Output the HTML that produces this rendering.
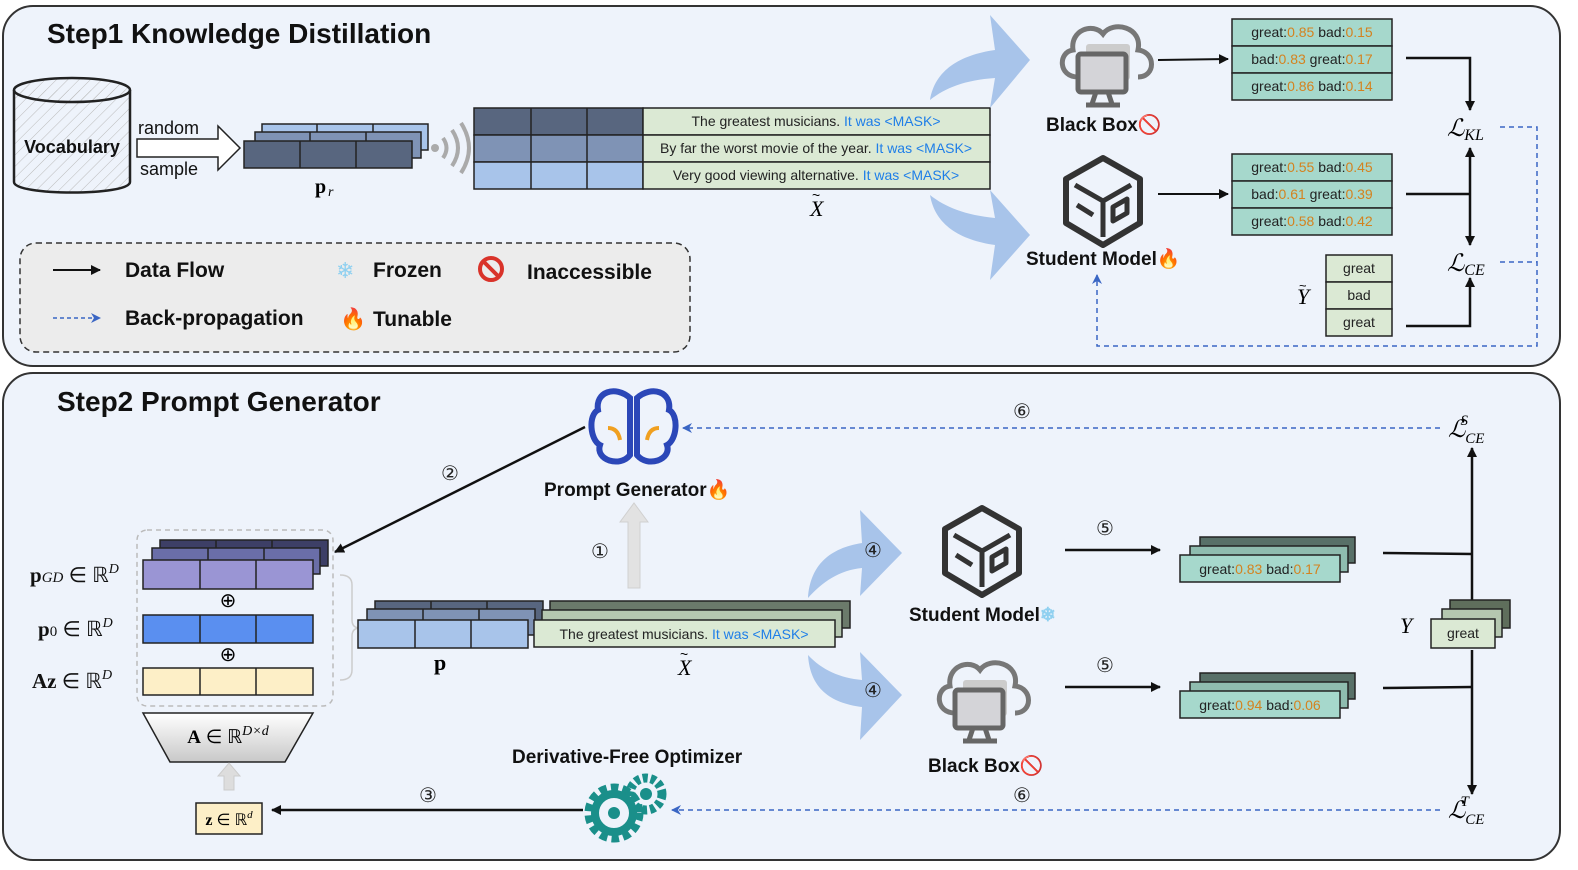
<!DOCTYPE html>
<html><head><meta charset="utf-8"><style>
body{margin:0;background:#fff}
svg{display:block;font-family:"Liberation Sans",sans-serif}
.b{font-weight:bold}
.m{font-family:"Liberation Serif",serif;font-style:italic}
.c{font-size:14px;fill:#222}
.o{fill:#d4821f}
.bl{fill:#1e7ee8}
</style></head><body>
<svg width="1578" height="870" viewBox="0 0 1578 870" xmlns="http://www.w3.org/2000/svg">
<defs>
<marker id="ak" markerWidth="10" markerHeight="10" refX="9" refY="5" orient="auto" markerUnits="userSpaceOnUse"><path d="M0,0 L10,5 L0,10 Z" fill="#111"/></marker>
<marker id="ab" markerWidth="10" markerHeight="10" refX="9" refY="5" orient="auto" markerUnits="userSpaceOnUse"><path d="M0,0 L10,5 L0,10 L3,5Z" fill="#3a66c4"/></marker>
<linearGradient id="tg" x1="0" y1="0" x2="0" y2="1"><stop offset="0" stop-color="#fff"/><stop offset="1" stop-color="#c8c8c8"/></linearGradient>
<pattern id="hatch" width="8" height="8" patternUnits="userSpaceOnUse" patternTransform="rotate(45)"><line x1="0" y1="0" x2="0" y2="8" stroke="#bbb" stroke-width="1"/></pattern>
<g id="bbox"><path d="M20,55 C0,55 0,30 15,28 C12,8 35,0 45,12 C55,-2 85,5 80,28 C98,30 98,55 80,55" fill="none" stroke="#777" stroke-width="5"/><rect x="28" y="22" width="44" height="36" rx="3" fill="#ccc"/><rect x="20" y="32" width="48" height="38" rx="3" fill="#d4d4d8" stroke="#666" stroke-width="5"/><path d="M38,70 L34,82 M50,70 L54,82 M28,83 L62,83" stroke="#666" stroke-width="5"/></g>
<g id="cube"><path d="M40,3 L77,24 L77,68 L40,90 L3,68 L3,24 Z" fill="none" stroke="#333" stroke-width="6" stroke-linejoin="round"/><path d="M12,30 L40,46 L68,30 M40,46 L40,82 M14,50 L30,60 M50,66 L50,52 L64,44 L64,58 Z" fill="none" stroke="#333" stroke-width="5" stroke-linejoin="round"/></g>
</defs>

<!-- Panel 1 -->
<rect x="3" y="6" width="1557" height="360" rx="30" fill="#eef3fb" stroke="#333" stroke-width="2"/>
<text x="47" y="43" class="b" font-size="28" fill="#111">Step1 Knowledge Distillation</text>
<path d="M14,90 L14,182 C14,196 130,196 130,182 L130,90" fill="url(#hatch)" stroke="#222" stroke-width="2.5"/>
<ellipse cx="72" cy="90" rx="58" ry="12" fill="url(#hatch)" stroke="#222" stroke-width="2.5"/>
<text x="72" y="153" text-anchor="middle" class="b" font-size="18" fill="#111">Vocabulary</text>
<path d="M137,139 L218,139 L218,126 L240,148 L218,170 L218,157 L137,157 Z" fill="#fff" stroke="#222" stroke-width="1.5"/>
<text x="138" y="134" font-size="18" fill="#111">random</text>
<text x="140" y="175" font-size="18" fill="#111">sample</text>
<g stroke="#222" stroke-width="1.5">
<rect x="262" y="124" width="166" height="26" fill="#a8c4ea"/><line x1="317" y1="124" x2="317" y2="150"/><line x1="373" y1="124" x2="373" y2="150"/>
<rect x="255" y="132" width="166" height="26" fill="#7f93b5"/><line x1="310" y1="132" x2="310" y2="158"/><line x1="366" y1="132" x2="366" y2="158"/>
<rect x="244" y="141" width="168" height="27" fill="#58667f"/><line x1="300" y1="141" x2="300" y2="168"/><line x1="356" y1="141" x2="356" y2="168"/>
</g>
<text x="315" y="193" class="b" font-family="Liberation Serif,serif" font-size="20">p</text><text x="328" y="196" class="m" font-size="14">r</text>
<circle cx="435" cy="148" r="4" fill="#aaa"/>
<path d="M443,138 Q450,148 443,158 M452,130 Q464,148 452,166 M461,123 Q477,148 461,173" fill="none" stroke="#aaa" stroke-width="4"/>
<g stroke="#222" stroke-width="1.5">
<rect x="474" y="108" width="169" height="27" fill="#58667f"/><rect x="474" y="135" width="169" height="27" fill="#7f93b5"/><rect x="474" y="162" width="169" height="27" fill="#a8c4ea"/>
<line x1="531" y1="108" x2="531" y2="189"/><line x1="587" y1="108" x2="587" y2="189"/>
<rect x="643" y="108" width="347" height="27" fill="#dbe9d4"/><rect x="643" y="135" width="347" height="27" fill="#dbe9d4"/><rect x="643" y="162" width="347" height="27" fill="#dbe9d4"/>
</g>
<text x="816" y="126" text-anchor="middle" class="c">The greatest musicians. <tspan class="bl">It was &lt;MASK&gt;</tspan></text>
<text x="816" y="153" text-anchor="middle" class="c">By far the worst movie of the year. <tspan class="bl">It was &lt;MASK&gt;</tspan></text>
<text x="816" y="180" text-anchor="middle" class="c">Very good viewing alternative. <tspan class="bl">It was &lt;MASK&gt;</tspan></text>
<text x="810" y="216" class="m" font-size="22">X</text><text x="812" y="200" font-size="14">~</text>
<path d="M930,100 C935,70 960,55 995,50 L990,15 L1030,60 L990,108 L995,78 C965,80 945,88 930,100 Z" fill="#a8c4ea"/>
<path d="M930,195 C935,225 960,240 995,245 L990,280 L1030,235 L990,190 L995,218 C965,215 945,207 930,195 Z" fill="#a8c4ea"/>
<use href="#bbox" x="1058" y="22"/>
<text x="1046" y="131" class="b" font-size="19" fill="#111">Black Box🚫</text>
<use href="#cube" x="1063" y="155"/>
<text x="1026" y="265" class="b" font-size="19" fill="#111">Student Model🔥</text>
<line x1="1158" y1="60" x2="1228" y2="59" stroke="#111" stroke-width="2" marker-end="url(#ak)"/>
<line x1="1158" y1="194" x2="1228" y2="194" stroke="#111" stroke-width="2" marker-end="url(#ak)"/>
<g stroke="#222" stroke-width="1.5" fill="#a6d8cc">
<rect x="1232" y="19" width="160" height="27"/><rect x="1232" y="46" width="160" height="27"/><rect x="1232" y="73" width="160" height="27"/>
<rect x="1232" y="154" width="160" height="27"/><rect x="1232" y="181" width="160" height="27"/><rect x="1232" y="208" width="160" height="27"/>
</g>
<g class="c" text-anchor="middle">
<text x="1312" y="37">great:<tspan class="o">0.85</tspan> bad:<tspan class="o">0.15</tspan></text>
<text x="1312" y="64">bad:<tspan class="o">0.83</tspan> great:<tspan class="o">0.17</tspan></text>
<text x="1312" y="91">great:<tspan class="o">0.86</tspan> bad:<tspan class="o">0.14</tspan></text>
<text x="1312" y="172">great:<tspan class="o">0.55</tspan> bad:<tspan class="o">0.45</tspan></text>
<text x="1312" y="199">bad:<tspan class="o">0.61</tspan> great:<tspan class="o">0.39</tspan></text>
<text x="1312" y="226">great:<tspan class="o">0.58</tspan> bad:<tspan class="o">0.42</tspan></text>
</g>
<g stroke="#222" stroke-width="1.5" fill="#dbe9d4">
<rect x="1326" y="255" width="66" height="27"/><rect x="1326" y="282" width="66" height="27"/><rect x="1326" y="309" width="66" height="27"/>
</g>
<g class="c" text-anchor="middle"><text x="1359" y="273">great</text><text x="1359" y="300">bad</text><text x="1359" y="327">great</text></g>
<text x="1297" y="304" class="m" font-size="22">Y</text><text x="1299" y="290" font-size="13">~</text>
<g stroke="#111" stroke-width="2.5" fill="none">
<path d="M1406,58 L1470,58 L1470,110" marker-end="url(#ak)"/>
<path d="M1406,194 L1470,194"/>
<line x1="1470" y1="194" x2="1470" y2="148" marker-end="url(#ak)"/>
<line x1="1470" y1="194" x2="1470" y2="245" marker-end="url(#ak)"/>
<path d="M1406,326 L1470,326 L1470,278" marker-end="url(#ak)"/>
</g>
<text x="1447" y="136" class="m" font-size="24">ℒ<tspan font-size="16" dy="4">KL</tspan></text>
<text x="1447" y="271" class="m" font-size="24">ℒ<tspan font-size="16" dy="4">CE</tspan></text>
<g stroke="#3a66c4" stroke-width="1.5" stroke-dasharray="5,4" fill="none">
<path d="M1500,127 L1537,127 L1537,346 L1097,346 L1097,275" marker-end="url(#ab)"/>
<path d="M1500,262 L1537,262"/>
</g>
<rect x="20" y="243" width="670" height="109" rx="16" fill="#ececec" stroke="#333" stroke-width="1.5" stroke-dasharray="6,4"/>
<line x1="53" y1="270" x2="100" y2="270" stroke="#111" stroke-width="2" marker-end="url(#ak)"/>
<text x="125" y="277" class="b" font-size="21" fill="#111">Data Flow</text>
<line x1="53" y1="318" x2="100" y2="318" stroke="#3a66c4" stroke-width="1.5" stroke-dasharray="4,3" marker-end="url(#ab)"/>
<text x="125" y="325" class="b" font-size="21" fill="#111">Back-propagation</text>
<text x="336" y="278" font-size="22" fill="#8fd0f0">❄</text>
<text x="373" y="277" class="b" font-size="21" fill="#111">Frozen</text>
<circle cx="491" cy="269" r="11" fill="none" stroke="#d9332a" stroke-width="4"/><line x1="483" y1="261" x2="499" y2="277" stroke="#d9332a" stroke-width="4"/>
<text x="527" y="279" class="b" font-size="21" fill="#111">Inaccessible</text>
<text x="340" y="326" font-size="21">🔥</text>
<text x="373" y="326" class="b" font-size="21" fill="#111">Tunable</text>

<!-- Panel 2 -->
<rect x="3" y="373" width="1557" height="487" rx="30" fill="#eef3fb" stroke="#333" stroke-width="2"/>
<text x="57" y="411" class="b" font-size="28" fill="#111">Step2 Prompt Generator</text>
<g fill="none" stroke="#2b47b8" stroke-width="6" stroke-linecap="round">
<path d="M630,398 C615,385 595,392 598,410 C588,415 590,440 600,445 C595,460 620,468 630,455 Z"/>
<path d="M637,398 C652,385 672,392 669,410 C679,415 677,440 667,445 C672,460 647,468 637,455 Z"/>
</g>
<path d="M608,428 Q618,428 620,440 M659,428 Q649,428 647,440" stroke="#f0a020" stroke-width="4" fill="none"/>
<text x="544" y="496" class="b" font-size="19" fill="#111">Prompt Generator🔥</text>
<line x1="1440" y1="428" x2="683" y2="428" stroke="#3a66c4" stroke-width="1.5" stroke-dasharray="5,4" marker-end="url(#ab)"/>
<text x="1022" y="418" text-anchor="middle" font-size="20" fill="#222">⑥</text>
<text x="1448" y="437" class="m" font-size="24">ℒ<tspan font-size="15" dy="6">CE</tspan><tspan font-size="15" dx="-24" dy="-18">S</tspan></text>
<line x1="585" y1="427" x2="335" y2="552" stroke="#111" stroke-width="2.5" marker-end="url(#ak)"/>
<text x="450" y="480" text-anchor="middle" font-size="20" fill="#222">②</text>
<rect x="137" y="530" width="196" height="176" rx="10" fill="none" stroke="#bbb" stroke-width="1.5" stroke-dasharray="5,4"/>
<g stroke="#222" stroke-width="1.5">
<rect x="160" y="540" width="168" height="26" fill="#3d3f66"/><line x1="216" y1="540" x2="216" y2="566"/><line x1="272" y1="540" x2="272" y2="566"/>
<rect x="152" y="548" width="168" height="26" fill="#6a6ea8"/><line x1="208" y1="548" x2="208" y2="574"/><line x1="264" y1="548" x2="264" y2="574"/>
<rect x="143" y="560" width="170" height="29" fill="#9a95d4"/><line x1="200" y1="560" x2="200" y2="589"/><line x1="256" y1="560" x2="256" y2="589"/>
<rect x="143" y="615" width="170" height="28" fill="#5a8ff0"/><line x1="200" y1="615" x2="200" y2="643"/><line x1="256" y1="615" x2="256" y2="643"/>
<rect x="143" y="668" width="170" height="27" fill="#fdefc7"/><line x1="200" y1="668" x2="200" y2="695"/><line x1="256" y1="668" x2="256" y2="695"/>
</g>
<text x="228" y="607" text-anchor="middle" font-size="20">⊕</text>
<text x="228" y="661" text-anchor="middle" font-size="20">⊕</text>
<g font-family="Liberation Serif,serif" font-size="21" fill="#111">
<text x="30" y="582"><tspan font-weight="bold">p</tspan><tspan class="m" font-size="15">GD</tspan> ∈ ℝ<tspan font-size="14" dy="-9" class="m">D</tspan></text>
<text x="38" y="636"><tspan font-weight="bold">p</tspan><tspan font-size="15">0</tspan> ∈ ℝ<tspan font-size="14" dy="-9" class="m">D</tspan></text>
<text x="32" y="688"><tspan font-weight="bold">Az</tspan> ∈ ℝ<tspan font-size="14" dy="-9" class="m">D</tspan></text>
</g>
<path d="M340,575 Q352,575 352,585 L352,620 Q352,628 360,628 Q352,628 352,636 L352,670 Q352,680 340,680" fill="none" stroke="#ccc" stroke-width="1.5"/>
<path d="M143,713 L313,713 L285,762 L170,762 Z" fill="url(#tg)" stroke="#222" stroke-width="1.5"/>
<text x="228" y="743" text-anchor="middle" font-family="Liberation Serif,serif" font-size="19"><tspan font-weight="bold">A</tspan> ∈ ℝ<tspan font-size="14" dy="-8" class="m">D×d</tspan></text>
<path d="M224,790 L224,776 L218,776 L229,763 L240,776 L234,776 L234,790 Z" fill="#ddd" stroke="#ccc"/>
<rect x="196" y="803" width="66" height="31" fill="#fdefc7" stroke="#222" stroke-width="1.5"/>
<text x="229" y="825" text-anchor="middle" font-family="Liberation Serif,serif" font-size="16"><tspan font-weight="bold">z</tspan> ∈ ℝ<tspan font-size="11" dy="-7" class="m">d</tspan></text>
<line x1="583" y1="810" x2="272" y2="810" stroke="#111" stroke-width="2.5" marker-end="url(#ak)"/>
<text x="428" y="802" text-anchor="middle" font-size="20" fill="#222">③</text>
<text x="512" y="763" class="b" font-size="19" fill="#111">Derivative-Free Optimizer</text>
<circle cx="614" cy="813" r="24" fill="none" stroke="#1a8f8a" stroke-width="11" stroke-dasharray="7,4"/>
<circle cx="614" cy="813" r="19" fill="none" stroke="#1a8f8a" stroke-width="8"/>
<circle cx="614" cy="813" r="6" fill="#1a8f8a"/>
<circle cx="646" cy="794" r="16" fill="none" stroke="#1a8f8a" stroke-width="9" stroke-dasharray="5,3"/>
<circle cx="646" cy="794" r="6" fill="#1a8f8a"/>
<line x1="1440" y1="810" x2="672" y2="810" stroke="#3a66c4" stroke-width="1.5" stroke-dasharray="5,4" marker-end="url(#ab)"/>
<text x="1022" y="802" text-anchor="middle" font-size="20" fill="#222">⑥</text>
<text x="1448" y="818" class="m" font-size="24">ℒ<tspan font-size="15" dy="6">CE</tspan><tspan font-size="15" dx="-24" dy="-18">T</tspan></text>
<g stroke="#222" stroke-width="1.5">
<rect x="375" y="601" width="168" height="26" fill="#58667f"/><line x1="431" y1="601" x2="431" y2="627"/><line x1="487" y1="601" x2="487" y2="627"/>
<rect x="367" y="609" width="168" height="26" fill="#7f93b5"/><line x1="423" y1="609" x2="423" y2="635"/><line x1="479" y1="609" x2="479" y2="635"/>
<rect x="358" y="620" width="170" height="28" fill="#a8c4ea"/><line x1="415" y1="620" x2="415" y2="648"/><line x1="471" y1="620" x2="471" y2="648"/>
<rect x="550" y="601" width="300" height="27" fill="#6b7a6b"/>
<rect x="542" y="610" width="300" height="27" fill="#b5c7b0"/>
<rect x="534" y="620" width="301" height="27" fill="#dbe9d4"/>
</g>
<text x="684" y="639" text-anchor="middle" class="c">The greatest musicians. <tspan class="bl">It was &lt;MASK&gt;</tspan></text>
<text x="434" y="670" class="b" font-family="Liberation Serif,serif" font-size="22">p</text>
<text x="678" y="675" class="m" font-size="22">X</text><text x="680" y="659" font-size="14">~</text>
<path d="M628,588 L628,522 L620,522 L634,503 L648,522 L640,522 L640,588 Z" fill="#e2e2e2" stroke="#d0d0d0"/>
<text x="600" y="558" text-anchor="middle" font-size="20" fill="#222">①</text>
<path d="M808,598 C810,565 830,548 862,543 L860,510 L902,553 L860,596 L862,568 C840,570 822,582 808,598 Z" fill="#a8c4ea"/>
<path d="M808,655 C810,688 830,703 862,707 L860,740 L902,695 L860,652 L862,680 C840,678 822,670 808,655 Z" fill="#a8c4ea"/>
<text x="873" y="557" text-anchor="middle" font-size="20" fill="#222">④</text>
<text x="873" y="697" text-anchor="middle" font-size="20" fill="#222">④</text>
<use href="#cube" x="942" y="505"/>
<text x="909" y="621" class="b" font-size="19" fill="#111">Student Model<tspan fill="#8fd0f0">❄</tspan></text>
<use href="#bbox" x="935" y="658"/>
<text x="928" y="772" class="b" font-size="19" fill="#111">Black Box🚫</text>
<line x1="1065" y1="550" x2="1160" y2="550" stroke="#111" stroke-width="2.5" marker-end="url(#ak)"/>
<line x1="1065" y1="687" x2="1160" y2="687" stroke="#111" stroke-width="2.5" marker-end="url(#ak)"/>
<text x="1105" y="535" text-anchor="middle" font-size="20" fill="#222">⑤</text>
<text x="1105" y="672" text-anchor="middle" font-size="20" fill="#222">⑤</text>
<g stroke="#222" stroke-width="1.5">
<rect x="1200" y="537" width="155" height="26" fill="#587068"/><rect x="1190" y="546" width="158" height="26" fill="#8fbcaf"/><rect x="1180" y="555" width="160" height="27" fill="#a6d8cc"/>
<rect x="1200" y="673" width="155" height="26" fill="#587068"/><rect x="1190" y="682" width="158" height="26" fill="#8fbcaf"/><rect x="1180" y="691" width="160" height="27" fill="#a6d8cc"/>
</g>
<text x="1260" y="574" text-anchor="middle" class="c">great:<tspan class="o">0.83</tspan> bad:<tspan class="o">0.17</tspan></text>
<text x="1260" y="710" text-anchor="middle" class="c">great:<tspan class="o">0.94</tspan> bad:<tspan class="o">0.06</tspan></text>
<g stroke="#111" stroke-width="2.5" fill="none">
<line x1="1383" y1="553" x2="1472" y2="554"/>
<line x1="1383" y1="688" x2="1472" y2="687"/>
<line x1="1472" y1="600" x2="1472" y2="448" marker-end="url(#ak)"/>
<line x1="1472" y1="650" x2="1472" y2="794" marker-end="url(#ak)"/>
</g>
<g stroke="#222" stroke-width="1.5">
<rect x="1450" y="600" width="60" height="28" fill="#5f6e5c"/><rect x="1442" y="609" width="60" height="28" fill="#b5c7b0"/><rect x="1431" y="619" width="64" height="29" fill="#dbe9d4"/>
</g>
<text x="1463" y="638" text-anchor="middle" class="c">great</text>
<text x="1400" y="633" class="m" font-size="22">Y</text>
</svg>
</body></html>
